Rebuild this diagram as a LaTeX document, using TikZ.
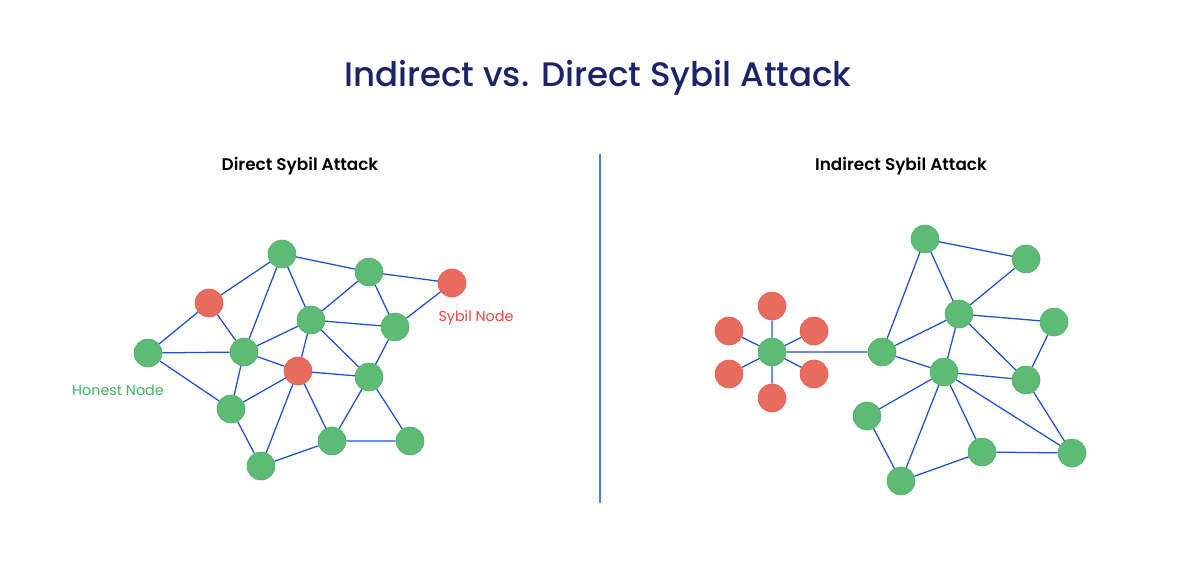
\documentclass[tikz,border=0pt]{standalone}
\usepackage{fontspec}
\setmainfont{Poppins}
\newfontfamily\titlefont{Poppins Medium}
\newfontfamily\headfont{Poppins SemiBold}
\usetikzlibrary{positioning}

\definecolor{navy}{HTML}{1B2468}
\definecolor{honest}{HTML}{5DBB76}
\definecolor{honestdk}{HTML}{50AE69}
\definecolor{honesttxt}{HTML}{3FB462}
\definecolor{sybil}{HTML}{E86B5E}
\definecolor{sybildk}{HTML}{DD5F52}
\definecolor{sybiltxt}{HTML}{E5483C}
\definecolor{link}{HTML}{1F50D0}
\definecolor{divider}{HTML}{4A7FD6}

\begin{document}
\begin{tikzpicture}[
  x=0.025cm, y=-0.025cm,
  hnode/.style={circle, fill=honest, draw=honestdk, line width=0.4pt, minimum size=0.7cm, inner sep=0pt},
  snode/.style={hnode, fill=sybil, draw=sybildk},
  edge/.style={draw=link, line width=0.9pt},
  lab/.style={font=\fontsize{10.2}{12}\selectfont}
]
\useasboundingbox (0,0) rectangle (1200,563);

% titles
\node[text=navy, font=\titlefont\fontsize{24.2}{29}\selectfont] (title) at (598,78) {Indirect vs. Direct Sybil Attack};
\node[font=\headfont\fontsize{12}{14}\selectfont] (ldirect) at (300,166) {Direct Sybil Attack};
\node[font=\headfont\fontsize{12}{14}\selectfont] (lindirect) at (901,166) {Indirect Sybil Attack};

% divider
\coordinate (dtop) at (600,154);
\coordinate (dbot) at (600,503);
\draw[draw=divider, line width=1pt] (dtop) -- (dbot);

% direct attack
\node[hnode] (a) at (282,254) {};
\node[hnode] (b) at (369,272) {};
\node[snode] (s1) at (452,283) {};
\node[snode] (s2) at (209,303) {};
\node[hnode] (c) at (311,320) {};
\node[hnode] (d) at (395,327) {};
\node[hnode] (e) at (148,353) {};
\node[hnode] (f) at (244,352) {};
\node[snode] (s3) at (298,371) {};
\node[hnode] (g) at (369,377) {};
\node[hnode] (h) at (231,409) {};
\node[hnode] (i) at (332,441) {};
\node[hnode] (j) at (410,441) {};
\node[hnode] (k) at (261,466) {};

\node[lab, text=sybiltxt] (slab) at (476,318) {Sybil Node};
\node[lab, text=honesttxt] (hlab) at (118,390) {Honest Node};

\draw[edge] (a) -- (b) (b) -- (s1) (a) -- (s2) (a) -- (c) (a) -- (f);
\draw[edge] (s2) -- (e) (s2) -- (f) (e) -- (f) (e) -- (h);
\draw[edge] (b) -- (c) (b) -- (d) (s1) -- (d) (c) -- (d);
\draw[edge] (c) -- (f) (c) -- (s3) (c) -- (g) (f) -- (s3) (f) -- (h);
\draw[edge] (d) -- (g) (s3) -- (g) (s3) -- (h) (s3) -- (k) (s3) -- (i);
\draw[edge] (h) -- (k) (g) -- (i) (g) -- (j) (i) -- (j) (k) -- (i);

% indirect attack
\node[hnode] (hub) at (772,352) {};
\node[snode] (r1) at (772,306) {};
\node[snode] (r2) at (729,331) {};
\node[snode] (r3) at (814,331) {};
\node[snode] (r4) at (729,374) {};
\node[snode] (r5) at (814,374) {};
\node[snode] (r6) at (772,398) {};

\node[hnode] (p) at (882,352) {};
\node[hnode] (t) at (925,239) {};
\node[hnode] (u) at (1026,259) {};
\node[hnode] (v) at (959,314) {};
\node[hnode] (w) at (1054,322) {};
\node[hnode] (x) at (944,372) {};
\node[hnode] (y) at (1026,380) {};
\node[hnode] (z) at (867,416) {};
\node[hnode] (q) at (982,452) {};
\node[hnode] (r) at (1072,453) {};
\node[hnode] (o) at (901,481) {};

\draw[edge] (hub) -- (r1) (hub) -- (r2) (hub) -- (r3) (hub) -- (r4) (hub) -- (r5) (hub) -- (r6);
\draw[edge] (hub) -- (p) (p) -- (t) (p) -- (v) (p) -- (x);
\draw[edge] (t) -- (u) (t) -- (v) (u) -- (v) (v) -- (w) (v) -- (x) (v) -- (y) (w) -- (y);
\draw[edge] (x) -- (y) (x) -- (z) (x) -- (o) (x) -- (q) (x) -- (r) (y) -- (r);
\draw[edge] (z) -- (o) (o) -- (q) (q) -- (r);
\end{tikzpicture}
\end{document}
